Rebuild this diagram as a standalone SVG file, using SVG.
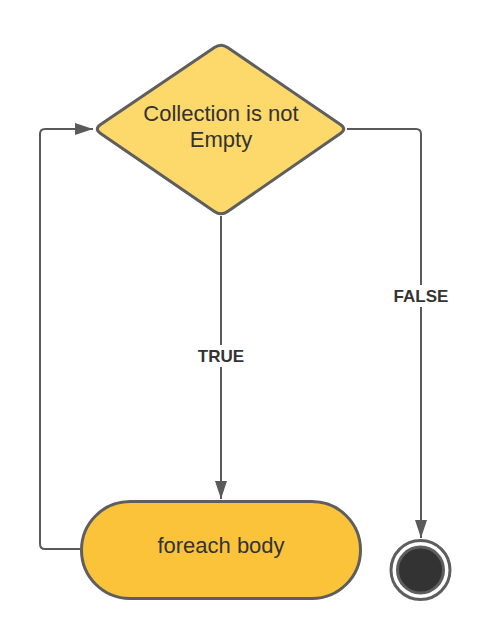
<svg xmlns="http://www.w3.org/2000/svg" width="492" height="640" viewBox="0 0 492 640">
<defs>
<marker id="arr" markerUnits="userSpaceOnUse" markerWidth="20" markerHeight="14" refX="18" refY="6" orient="auto">
<path d="M0,0 L18,6 L0,12 Z" fill="#5a5a5a"/>
</marker>
<style>
.conn{fill:none;stroke:#5a5a5a;stroke-width:2}
.shape{stroke:#5e5e5e;stroke-width:3;stroke-linejoin:round}
.t{font-family:"Liberation Sans",Arial,sans-serif;fill:#333;text-anchor:middle}
.lbl{font-family:"Liberation Sans",Arial,sans-serif;fill:#333;text-anchor:middle;font-weight:bold;font-size:17px}
</style>
</defs>
<rect width="492" height="640" fill="#fff"/>
<g id="connectors">
<path class="conn" d="M80,549 L45,549 Q40,549 40,544 L40,134 Q40,129 45,129 L93,129" marker-end="url(#arr)"/>
<path class="conn" d="M221,216 L221,499" marker-end="url(#arr)"/>
<path class="conn" d="M347,129 L416,129 Q421,129 421,134 L421,538" marker-end="url(#arr)"/>
<rect x="195" y="345" width="52" height="22" fill="#fff"/>
<text class="lbl" x="221" y="362">TRUE</text>
<rect x="390" y="285" width="62" height="22" fill="#fff"/>
<text class="lbl" x="421" y="302">FALSE</text>
</g>
<g id="decision">
<path class="shape" fill="#fdd86a" d="M214.4,47.5 Q221,43 227.6,47.5 L340.4,124.5 Q347,129 340.4,133.5 L227.6,211.5 Q221,216 214.4,211.5 L100.6,133.5 Q94,129 100.6,124.5 Z"/>
<text class="t" font-size="22" x="221" y="121">Collection is not</text>
<text class="t" font-size="22" x="221" y="147">Empty</text>
</g>
<g id="body">
<rect class="shape" fill="#fbc33a" x="81.5" y="501.5" width="279" height="97" rx="48.5"/>
<text class="t" font-size="22" x="221" y="553">foreach body</text>
</g>
<g id="end">
<circle cx="420.5" cy="570" r="29.5" fill="#fff" stroke="#5e5e5e" stroke-width="3"/>
<circle cx="420.5" cy="570" r="23" fill="#333" stroke="#5e5e5e" stroke-width="3"/>
</g>
</svg>
